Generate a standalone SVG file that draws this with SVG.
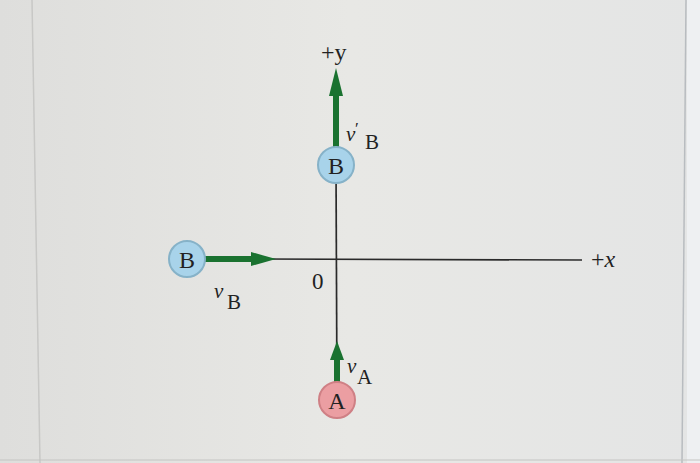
<svg xmlns="http://www.w3.org/2000/svg" width="700" height="463" viewBox="0 0 700 463">
<defs>
<style>
.t{font-family:"Liberation Serif","Times New Roman",serif;fill:#222}
.it{font-style:italic}
.ax{stroke:#2a2a2a;stroke-width:1.7;fill:none}
.vec{stroke:#1a7230;stroke-width:6;fill:none}
.head{fill:#1a7230}
.cb{fill:#a8d3ea;stroke:#86b2c8;stroke-width:2}
.ca{fill:#eb9ea2;stroke:#cf8085;stroke-width:2}
</style>
<linearGradient id="bg" x1="0" y1="0" x2="1" y2="0">
<stop offset="0" stop-color="#dededc"/>
<stop offset="0.5" stop-color="#e8e8e5"/>
<stop offset="1" stop-color="#e4e5e5"/>
</linearGradient>
</defs>
<rect width="700" height="463" fill="url(#bg)"/>
<line x1="32" y1="0" x2="40" y2="463" stroke="#c8c8c6" stroke-width="1.5"/>
<line x1="686" y1="0" x2="682" y2="463" stroke="#b8bcc0" stroke-width="1.5"/>
<rect x="687" y="0" width="13" height="463" fill="#eef0f2"/>
<line x1="0" y1="460" x2="700" y2="460" stroke="#c4c4c2" stroke-width="1"/>

<g id="axes">
<line class="ax" x1="260" y1="259" x2="582" y2="260"/>
<line class="ax" x1="336" y1="165" x2="337" y2="400"/>
</g>

<g id="connectors">
<line class="vec" x1="336" y1="148" x2="336" y2="92"/>
<polygon class="head" points="336,68 329,96 343,96"/>
<line class="vec" x1="205" y1="259" x2="256" y2="259"/>
<polygon class="head" points="276,259 251,252 251,266"/>
<line class="vec" x1="337" y1="382" x2="337" y2="356"/>
<polygon class="head" points="337,341 330,360 344,360"/>
</g>

<g id="nodeBtop">
<circle class="cb" cx="336" cy="165" r="18"/>
<text class="t" x="336" y="173.5" font-size="24" text-anchor="middle">B</text>
</g>
<g id="nodeBleft">
<circle class="cb" cx="187" cy="259" r="18"/>
<text class="t" x="187" y="267.5" font-size="24" text-anchor="middle">B</text>
</g>
<g id="nodeA">
<circle class="ca" cx="337" cy="400" r="18"/>
<text class="t" x="337" y="408.5" font-size="24" text-anchor="middle">A</text>
</g>

<g id="labels">
<text class="t" x="321" y="60" font-size="24">+y</text>
<text class="t" x="591" y="267" font-size="24">+<tspan class="it">x</tspan></text>
<text class="t" x="312" y="289" font-size="23">0</text>
<text class="t it" x="346" y="141" font-size="21">v</text>
<text class="t" x="355" y="134" font-size="17">′</text>
<text class="t" x="365" y="149" font-size="21">B</text>
<text class="t it" x="214" y="298" font-size="21">v</text>
<text class="t" x="227" y="309" font-size="21">B</text>
<text class="t it" x="347" y="373" font-size="21">v</text>
<text class="t" x="357" y="384" font-size="21">A</text>
</g>
</svg>
